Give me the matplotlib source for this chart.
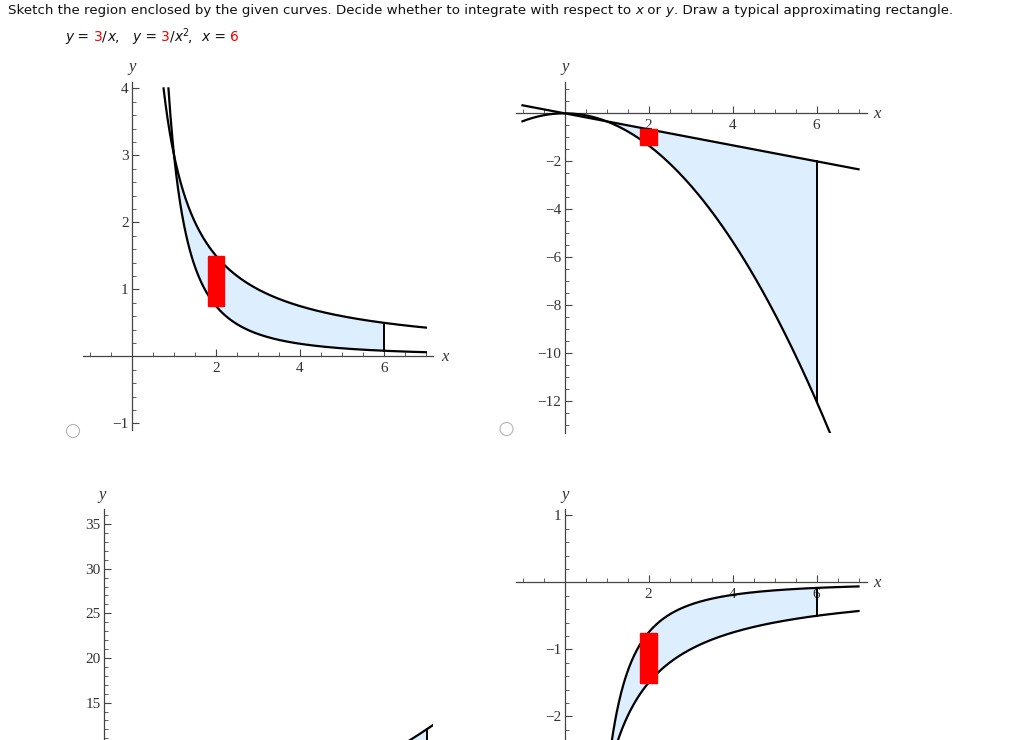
import numpy as np
import matplotlib
matplotlib.use("Agg")
import matplotlib.pyplot as plt
from matplotlib.patches import Rectangle, Circle
from matplotlib.ticker import FixedLocator, MultipleLocator, NullFormatter

W, H = 1024, 740

# problem data
coef = 3            # y = 3/x, y = 3/x^2
x_bound = 6         # x = 6
x_start = 1         # curves meet at x = 1
x_end = 7           # curves drawn out to x = 7
rect_x = 2          # position of the typical rectangle
rect_w = 0.4

title_pieces = [
    ("Sketch the region enclosed by the given curves. Decide whether to integrate with respect to ", "normal"),
    ("x", "italic"), (" or ", "normal"), ("y", "italic"),
    (". Draw a typical approximating rectangle.", "normal"),
]
# (text, colour, style, superscript)
eq_pieces = [
    ("y", "#111111", "italic", False), (" = ", "#111111", "normal", False),
    ("3", "#ee0000", "normal", False), ("/", "#111111", "normal", False),
    ("x", "#111111", "italic", False), (",   ", "#111111", "normal", False),
    ("y", "#111111", "italic", False), (" = ", "#111111", "normal", False),
    ("3", "#ee0000", "normal", False), ("/", "#111111", "normal", False),
    ("x", "#111111", "italic", False), ("2", "#111111", "normal", True),
    (",  ", "#111111", "normal", False), ("x", "#111111", "italic", False),
    (" = ", "#111111", "normal", False), ("6", "#ee0000", "normal", False),
]

plt.rcParams["font.family"] = ["Liberation Serif", "DejaVu Serif"]

fig = plt.figure(figsize=(W / 100, H / 100), dpi=100)
fig.patch.set_facecolor("white")
renderer = fig.canvas.get_renderer()

FILL = "#ddeeff"
RED = "#ff0000"
AX = "#444444"


def put_text(x, y, pieces, size):
    for s, color, style, sup in pieces:
        t = fig.text(x / W, 1 - (y - (5 if sup else 0)) / H, s, color=color,
                     style=style, fontsize=size * (0.7 if sup else 1),
                     family="DejaVu Sans", va="baseline", ha="left")
        x += t.get_window_extent(renderer=renderer).width


put_text(8, 14, [(s, "#111111", st, False) for s, st in title_pieces], 9.6)
put_text(65, 41, eq_pieces, 9.9)


def make_axes(xlim, ylim, left, right, top, bottom):
    ax = fig.add_axes([left / W, 1 - bottom / H, (right - left) / W, (bottom - top) / H])
    ax.set_xlim(*xlim)
    ax.set_ylim(*ylim)
    ax.patch.set_visible(False)
    for s in ["top", "right"]:
        ax.spines[s].set_visible(False)
    for s in ["left", "bottom"]:
        ax.spines[s].set_position(("data", 0))
        ax.spines[s].set_color(AX)
        ax.spines[s].set_linewidth(0.9)
    ax.tick_params(which="major", direction="in", length=5, width=0.8, color=AX,
                   labelsize=11, labelcolor="#333333")
    ax.tick_params(which="minor", direction="in", length=2.6, width=0.6, color=AX)
    ax.tick_params(axis="x", pad=4)
    ax.tick_params(axis="y", pad=2.5)
    return ax


def set_ticks(ax, xmaj, xmin, ymaj, ymin, xlab=True):
    ax.xaxis.set_major_locator(FixedLocator(xmaj))
    ax.xaxis.set_minor_locator(MultipleLocator(xmin))
    ax.yaxis.set_major_locator(FixedLocator(ymaj))
    ax.yaxis.set_minor_locator(MultipleLocator(ymin))
    if xlab:
        ax.set_xticklabels([str(v).replace("-", "\u2212") for v in xmaj])
    else:
        ax.xaxis.set_major_formatter(NullFormatter())
    ax.set_yticklabels([str(v).replace("-", "\u2212") for v in ymaj])


def axis_label(x, y, s):
    fig.text(x / W, 1 - y / H, s, style="italic", fontsize=12, color="#333333",
             ha="center", va="center")


def draw_region(ax, f_top, f_bot, x_lo, x_hi):
    xs = np.linspace(x_lo, x_hi, 400)
    xf = np.linspace(x_start, x_bound, 300)
    ax.fill_between(xf, f_bot(xf), f_top(xf), color=FILL, lw=0, zorder=1)
    for f in (f_top, f_bot):
        ax.plot(xs, f(xs), color="black", lw=1.6, zorder=3)
    ax.plot([x_bound, x_bound], [f_bot(x_bound), f_top(x_bound)], color="black", lw=1.4, zorder=3)


xticks = [2, 4, 6]

# panel 1: y = 3/x and y = 3/x^2 (correct picture)
ax1 = make_axes((-1.17, 7.17), (-1.1, 4.1), 83, 433, 81.7, 430)
f_a = lambda x: coef / x
f_b = lambda x: coef / x ** 2
xa = np.linspace(coef / 4, x_end, 400)
xb = np.linspace(np.sqrt(coef / 4), x_end, 400)
xf = np.linspace(x_start, x_bound, 300)
ax1.fill_between(xf, f_b(xf), f_a(xf), color=FILL, lw=0, zorder=1)
ax1.plot(xa, f_a(xa), color="black", lw=1.6, zorder=3)
ax1.plot(xb, f_b(xb), color="black", lw=1.6, zorder=3)
ax1.plot([x_bound, x_bound], [f_b(x_bound), f_a(x_bound)], color="black", lw=1.4, zorder=3)
ax1.add_patch(Rectangle((rect_x - rect_w / 2, f_b(rect_x)), rect_w, f_a(rect_x) - f_b(rect_x),
                        color=RED, zorder=4))
set_ticks(ax1, xticks, 0.5, [-1, 1, 2, 3, 4], 0.2)
axis_label(132, 67, "y")
axis_label(445, 357, "x")

# panel 2: y = -x/3 and y = -x^2/3
ax2 = make_axes((-1.15, 7.19), (-13.3, 1.3), 516.2, 866.5, 82.1, 432.5)
g_a = lambda x: -x / coef
g_b = lambda x: -x ** 2 / coef
draw_region(ax2, g_a, g_b, -1, x_end)
ax2.add_patch(Rectangle((rect_x - rect_w / 2, g_b(rect_x)), rect_w, g_a(rect_x) - g_b(rect_x),
                        color=RED, zorder=4))
set_ticks(ax2, xticks, 0.5, [-12, -10, -8, -6, -4, -2], 0.5)
axis_label(565, 67, "y")
axis_label(877, 114, "x")

# panel 3: y = x/3 and y = x^2/3 (mostly below the visible area)
ax3 = make_axes((-0.05, 6.12), (-1, 36.65), 101.6, 433, 509.3, 845.5)
h_a = lambda x: x ** 2 / coef
h_b = lambda x: x / coef
draw_region(ax3, h_a, h_b, 0, 6.12)
set_ticks(ax3, xticks, 0.5, [15, 20, 25, 30, 35], 1, xlab=False)
axis_label(101.7, 495, "y")

# panel 4: y = -3/x^2 and y = -3/x
ax4 = make_axes((-1.15, 7.19), (-3.2, 1.09), 516.2, 866.5, 509.3, 796.7)
k_a = lambda x: -coef / x ** 2
k_b = lambda x: -coef / x
draw_region(ax4, k_a, k_b, 0.9, x_end)
ax4.add_patch(Rectangle((rect_x - rect_w / 2, k_b(rect_x)), rect_w, k_a(rect_x) - k_b(rect_x),
                        color=RED, zorder=4))
set_ticks(ax4, xticks, 0.5, [-2, -1, 1], 0.2)
axis_label(565, 495, "y")
axis_label(877, 583, "x")

# radio buttons
for cx, cy in [(73, 431), (506.5, 429)]:
    fig.patches.append(Circle((cx / 100, (H - cy) / 100), 0.065, transform=fig.dpi_scale_trans,
                              facecolor="white", edgecolor="#b5b5b5", lw=0.8))

fig.savefig("out.png", dpi=100)
